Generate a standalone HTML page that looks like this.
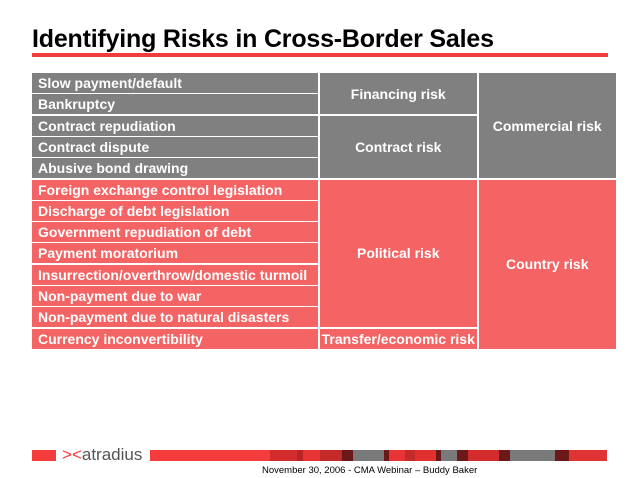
<!DOCTYPE html>
<html><head><meta charset="utf-8"><style>
body{margin:0;width:638px;height:478px;background:#fff;position:relative;overflow:hidden;font-family:"Liberation Sans",Arial,sans-serif}
.t{position:absolute;left:32px;top:25px;font-size:25px;font-weight:bold;color:#000;letter-spacing:-0.2px}
.ul{position:absolute;left:32px;top:53px;width:576px;height:4px;background:#f03c3c}
.c{position:absolute;color:#fff;font-weight:bold;font-size:14px;box-sizing:border-box;display:flex;align-items:center}
.g{background:#808080}.r{background:#f46464}
.l{padding-left:6px}.m{justify-content:center}
.seg{position:absolute;top:450px;height:11px}
</style></head><body>
<div class="t">Identifying Risks in Cross-Border Sales</div>
<div class="ul"></div>
<div id="tbl"></div>
<div class="seg" style="left:32px;width:24px;background:#f43c3c"></div>
<div style="position:absolute;left:62px;top:445px;font-size:17px;color:#555"><span style="color:#f03c3c">&gt;</span><span style="color:#f03c3c">&lt;</span>atradius</div>
<div id="bar"></div>
<div style="position:absolute;left:262px;top:465px;font-size:9.5px;color:#000">November 30, 2006 - CMA Webinar – Buddy Baker</div>
<script>
const items=["Slow payment/default","Bankruptcy","Contract repudiation","Contract dispute","Abusive bond drawing","Foreign exchange control legislation","Discharge of debt legislation","Government repudiation of debt","Payment moratorium","Insurrection/overthrow/domestic turmoil","Non-payment due to war","Non-payment due to natural disasters","Currency inconvertibility"];
const mid=[["Financing risk",0,2,"g"],["Contract risk",2,5,"g"],["Political risk",5,12,"r"],["Transfer/economic risk",12,13,"r"]];
const big=[["Commercial risk",0,5,"g"],["Country risk",5,13,"r"]];
const T=document.getElementById('tbl'),top0=73,rh=21.3;
function cell(txt,x,w,a,b,cls,name){const d=document.createElement('div');d.className='c '+cls;


d.style.left=x+'px';d.style.width=w+'px';d.style.top=(top0+a*rh)+'px';d.style.height=((b-a)*rh-1.3)+'px';d.textContent=txt;T.appendChild(d);}
items.forEach((s,i)=>cell(s,32,286,i,i+1,(i<5?'g':'r')+' l','risk-item'));
mid.forEach(m=>cell(m[0],319.5,157.5,m[1],m[2],m[3]+' m','risk-type'));
big.forEach(m=>cell(m[0],478.5,137.5,m[1],m[2],m[3]+' m','risk-category'));
const segs=[[150,270,"#f43c3c"],[270,297,"#d22c2c"],[297,303,"#b82424"],[303,320,"#e83434"],[320,342,"#c42a2a"],[342,353,"#6b1818"],[353,384,"#7a7a7a"],[384,389,"#6b1818"],[389,405,"#e83434"],[405,415,"#c42a2a"],[415,436,"#e03030"],[436,441,"#6b1818"],[441,457,"#7a7a7a"],[457,468,"#6b1818"],[468,499,"#d22c2c"],[499,510,"#6b1818"],[510,555,"#7a7a7a"],[555,569,"#6b1818"],[569,607,"#e03434"]];
const B=document.getElementById('bar');
segs.forEach(s=>{const d=document.createElement('div');d.className='seg';


d.style.left=s[0]+'px';d.style.width=(s[1]-s[0])+'px';d.style.background=s[2];B.appendChild(d);});
</script>
</body></html>
